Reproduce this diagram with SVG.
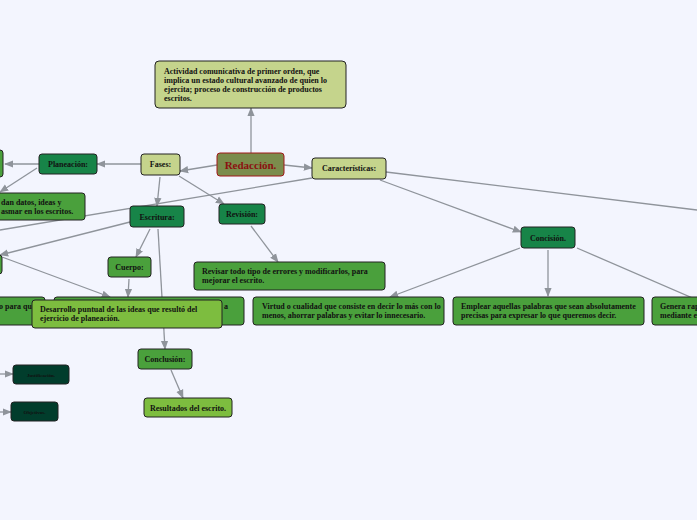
<svg xmlns="http://www.w3.org/2000/svg" width="697" height="520" viewBox="0 0 697 520">
<style>
text{font-family:"Liberation Serif",serif;font-weight:bold;font-size:8px;fill:#111}
.n rect{stroke:#222;stroke-width:1}
.a{fill:#c5d48c}.d{fill:#178448}.g{fill:#4aa03c}.l{fill:#7dbd3f}.k{fill:#013d2c}
#c path{stroke:#8f949b;stroke-width:1.3;fill:none}
</style>
<defs><marker id="m" viewBox="0 0 10 10" refX="9" refY="5" markerWidth="7" markerHeight="7" orient="auto"><path d="M0,1L10,5L0,9z" fill="#8f949b"/></marker></defs>
<rect width="697" height="520" fill="#f3f5fe"/>
<g id="c">
<path d="M251,153V108" marker-end="url(#m)"/>
<path d="M217,165L180,171" marker-end="url(#m)"/>
<path d="M284,165L312,168" marker-end="url(#m)"/>
<path d="M386,172L697,210"/>
<path d="M380,180L521,232" marker-end="url(#m)"/>
<path d="M312,178L0,230"/>
<path d="M141,164H97" marker-end="url(#m)"/>
<path d="M39,164H5" marker-end="url(#m)"/>
<path d="M37,168L0,192" marker-end="url(#m)"/>
<path d="M160,177L157,206" marker-end="url(#m)"/>
<path d="M179,176L224,204" marker-end="url(#m)"/>
<path d="M150,229L136,257" marker-end="url(#m)"/>
<path d="M130,222L0,255" marker-end="url(#m)"/>
<path d="M158,229L165,349" marker-end="url(#m)"/>
<path d="M2,257L110,297" marker-end="url(#m)"/>
<path d="M129,279L128,297" marker-end="url(#m)"/>
<path d="M251,226L278,262" marker-end="url(#m)"/>
<path d="M520,248L390,297" marker-end="url(#m)"/>
<path d="M548,250V296" marker-end="url(#m)"/>
<path d="M577,248L697,300"/>
<path d="M171,370L183,398" marker-end="url(#m)"/>
<path d="M0,374H13" marker-end="url(#m)"/>
<path d="M0,412H11" marker-end="url(#m)"/>
</g>
<g id="def" class="n"><rect class="a" x="155" y="61" width="191" height="47" rx="4"/><text x="164" y="74">Actividad comunicativa de primer orden, que</text><text x="164" y="83">implica un estado cultural avanzado de quien lo</text><text x="164" y="92">ejercita; proceso de construcción de productos</text><text x="164" y="101">escritos.</text></g>
<g id="redaccion"><rect x="217" y="153" width="67" height="23" rx="3" fill="#7b8c4c" stroke="#a01818"/><text x="250.5" y="168.5" text-anchor="middle" style="font-size:11px;fill:#8b1010">Redacción.</text></g>
<g id="caract" class="n"><rect class="a" x="312" y="158" width="74" height="21" rx="3"/><text x="349" y="171" text-anchor="middle">Características:</text></g>
<g id="fases" class="n"><rect class="a" x="141" y="154" width="39" height="21" rx="3"/><text x="160.5" y="167" text-anchor="middle">Fases:</text></g>
<g id="planeacion" class="n"><rect class="d" x="39" y="154" width="58" height="20" rx="3"/><text x="68" y="167" text-anchor="middle">Planeación:</text></g>
<g id="pl1" class="n"><rect class="g" x="-10" y="150" width="13" height="27" rx="3"/></g>
<g id="pl2" class="n"><rect class="g" x="-10" y="193" width="95" height="27" rx="3"/><text x="1" y="205">dan datos, ideas y</text><text x="1" y="214">asmar en los escritos.</text></g>
<g id="escritura" class="n"><rect class="d" x="130" y="206" width="54" height="21" rx="3"/><text x="157" y="219.5" text-anchor="middle">Escritura:</text></g>
<g id="revision" class="n"><rect class="d" x="219" y="204" width="46" height="20" rx="3"/><text x="242" y="217" text-anchor="middle">Revisión:</text></g>
<g id="concision" class="n"><rect class="d" x="521" y="227" width="54" height="21" rx="3"/><text x="548" y="240.5" text-anchor="middle">Concisión.</text></g>
<g id="cuerpo" class="n"><rect class="g" x="108" y="257" width="43" height="20" rx="3"/><text x="129.5" y="270" text-anchor="middle">Cuerpo:</text></g>
<g id="intro" class="n"><rect class="g" x="-10" y="255" width="12" height="19" rx="3"/></g>
<g id="revisar" class="n"><rect class="g" x="194" y="262" width="191" height="28" rx="3"/><text x="202" y="274">Revisar todo tipo de errores y modificarlos, para</text><text x="202" y="283">mejorar el escrito.</text></g>
<g id="intro2" class="n"><rect class="g" x="-10" y="297" width="55" height="28" rx="3"/><text x="-1" y="309">o para que</text></g>
<g id="cuerpo2" class="n"><rect class="g" x="54" y="297" width="190" height="28" rx="3"/><text x="224" y="309">a</text></g>
<g id="virtud" class="n"><rect class="g" x="253" y="297" width="191" height="28" rx="3"/><text x="262" y="309">Virtud o cualidad que consiste en decir lo más con lo</text><text x="262" y="318">menos, ahorrar palabras y evitar lo innecesario.</text></g>
<g id="emplear" class="n"><rect class="g" x="453" y="297" width="191" height="28" rx="3"/><text x="461" y="309">Emplear aquellas palabras que sean absolutamente</text><text x="461" y="318">precisas para expresar lo que queremos decir.</text></g>
<g id="genera" class="n"><rect class="g" x="652" y="297" width="60" height="28" rx="3"/><text x="660" y="309">Genera rap</text><text x="660" y="318">mediante el</text></g>
<g id="desarrollo" class="n"><rect class="l" x="32" y="300" width="190" height="28" rx="3"/><text x="40" y="312">Desarrollo puntual de las ideas que resultó del</text><text x="40" y="321">ejercicio de planeación.</text></g>
<g id="conclusion" class="n"><rect class="g" x="138" y="349" width="54" height="20" rx="3"/><text x="165" y="362" text-anchor="middle">Conclusión:</text></g>
<g id="resultados" class="n"><rect class="l" x="144" y="398" width="88" height="19" rx="3"/><text x="188" y="410.5" text-anchor="middle">Resultados del escrito.</text></g>
<g id="justif" class="n"><rect class="k" x="13" y="365" width="56" height="19" rx="3"/><text x="41" y="377" text-anchor="middle" style="font-size:5px">Justificación.</text></g>
<g id="objet" class="n"><rect class="k" x="11" y="402" width="47" height="19" rx="3"/><text x="34.5" y="414" text-anchor="middle" style="font-size:5px">Objetivos.</text></g>
</svg>
